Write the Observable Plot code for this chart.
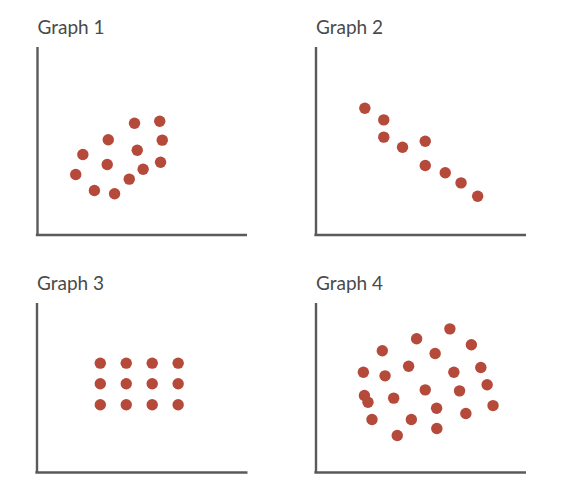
<!DOCTYPE html>
<html>
<head>
<meta charset="utf-8">
<script src="https://cdn.jsdelivr.net/npm/d3@7"></script>
<script src="https://cdn.jsdelivr.net/npm/@observablehq/plot@0.6"></script>
<style>
  html, body { margin: 0; padding: 0; background: #fff; }
  #wrap { position: relative; width: 578px; height: 492px; overflow: hidden; }
  #wrap > div { position: absolute; }
  svg { overflow: visible; }
</style>
</head>
<body>
<div id="wrap">
  <div id="p1" style="left:0;top:0"></div>
  <div id="p2" style="left:289px;top:0"></div>
  <div id="p3" style="left:0;top:246px"></div>
  <div id="p4" style="left:289px;top:246px"></div>
</div>
<script>
// Panel titles
const titles = ["Graph 1", "Graph 2", "Graph 3", "Graph 4"];

// Graph 1: positive correlation
const g1x = [46.2, 58.2, 33.7, 59.4, 21.6, 47.5, 33.2, 58.6, 18.2, 50.3, 43.7, 27.1, 36.7];
const g1y = [59.6, 60.7, 50.8, 50.6, 42.9, 45.2, 37.6, 38.8, 32.3, 35.1, 29.8, 23.7, 22.0];

// Graph 2: negative correlation
const g2x = [23.2, 32.2, 32.2, 41.1, 51.9, 51.9, 61.4, 68.9, 76.8];
const g2y = [67.6, 61.4, 52.2, 46.8, 50.0, 37.1, 33.2, 27.8, 20.7];

// Graph 3: grid (no correlation)
const g3x = [30, 42.3, 54.6, 66.9, 30, 42.3, 54.6, 66.9, 30, 42.3, 54.6, 66.9];
const g3y = [64.7, 64.7, 64.7, 64.7, 52.5, 52.5, 52.5, 52.5, 40.1, 40.1, 40.1, 40.1];

// Graph 4: scattered (no correlation)
const g4x = [63.6, 47.8, 73.8, 31.5, 56.6, 44.0, 78.3, 22.5, 32.8, 65.5, 81.3, 51.9,
             68.2, 23.0, 24.7, 36.9, 57.3, 84.1, 71.2, 26.6, 45.3, 57.4, 38.6];
const g4y = [85.0, 79.1, 75.6, 72.0, 70.4, 62.9, 62.1, 59.3, 57.2, 59.3, 51.9, 48.9,
             48.3, 45.6, 41.6, 44.0, 38.0, 39.6, 34.9, 31.4, 31.4, 26.0, 21.9];

const series = [[g1x, g1y], [g2x, g2y], [g3x, g3y], [g4x, g4y]];

const layouts = [
  {marginLeft: 37,   marginRight: 42,   marginTop: 47, marginBottom: 11.5},
  {marginLeft: 26.5, marginRight: 52,   marginTop: 47, marginBottom: 11.5},
  {marginLeft: 36.5, marginRight: 41.5, marginTop: 57, marginBottom: 20},
  {marginLeft: 26.5, marginRight: 52,   marginTop: 57, marginBottom: 20}
];

series.forEach(([xs, ys], i) => {
  const data = xs.map((x, k) => ({x, y: ys[k]}));
  const chart = Plot.plot({
    width: 289,
    height: 246,
    ...layouts[i],
    x: {domain: [0, 100], axis: null},
    y: {domain: [0, 100], axis: null},
    style: {background: "transparent", overflow: "visible"},
    marks: [
      Plot.ruleX([0], {stroke: "#5a5a5a", strokeWidth: 2.4}),
      Plot.ruleY([0], {stroke: "#5a5a5a", strokeWidth: 2.4, x1: -0.55, x2: 100}),
      Plot.dot(data, {x: "x", y: "y", r: 5.7, fill: "#b5493a", stroke: "none"}),
      Plot.text([titles[i]], {
        text: d => d,
        frameAnchor: "top-left",
        textAnchor: "start",
        lineAnchor: "bottom",
        dy: -14,
        dx: 0,
        fill: "#4a4a4a",
        fontSize: 19,
        fontFamily: "Lato, 'Open Sans', sans-serif"
      })
    ]
  });
  document.getElementById("p" + (i + 1)).appendChild(chart);
});
</script>
</body>
</html>
